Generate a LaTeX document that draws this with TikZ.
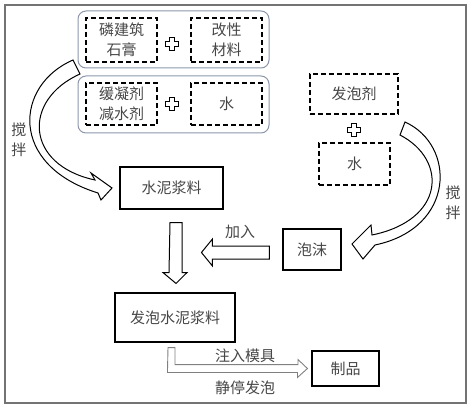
\documentclass[tikz,border=0pt]{standalone}
\usepackage{fontspec}
\newfontfamily\cjk{Noto Sans CJK SC}
\usetikzlibrary{calc}
\definecolor{grpcol}{RGB}{140,150,170}
\definecolor{txtcol}{RGB}{70,70,70}
\begin{document}
\begin{tikzpicture}[x=1pt,y=-1pt,
  lab/.style={font=\cjk\fontsize{15}{20}\selectfont, text=txtcol, align=center, inner sep=0pt},
  dbox/.style={lab, draw=black, line width=1.2pt, dash pattern=on 5pt off 3pt},
  sbox/.style={lab, draw=black, line width=1.1pt},
  grp/.style={draw=grpcol, line width=1pt, rounded corners=8pt},
  hollow/.style={draw=black, line width=1pt, fill=white, line join=miter},
  plussign/.pic={\draw[line width=1.1pt, fill=white]
    (-2.4,-6.5)--(2.4,-6.5)--(2.4,-2.4)--(6.5,-2.4)--(6.5,2.4)--(2.4,2.4)--(2.4,6.5)
    --(-2.4,6.5)--(-2.4,2.4)--(-6.5,2.4)--(-6.5,-2.4)--(-2.4,-2.4)--cycle;}
]
\useasboundingbox (0,0) rectangle (474,409);
% outer frame
\draw[draw=black!55, line width=1.6pt] (5,5) rectangle (466,403);

% group boxes
\draw[grp] (78,11) rectangle (269,68);
\draw[grp] (78,76) rectangle (269,133);

% dashed ingredient boxes
\node[dbox, minimum width=71pt, minimum height=44pt] (gyp) at (121.5,40) {磷建筑\\石膏};
\node[dbox, minimum width=71pt, minimum height=44pt] (mod) at (226.5,40) {改性\\材料};
\node[dbox, minimum width=71pt, minimum height=42pt] (ret) at (121.5,104) {缓凝剂\\减水剂};
\node[dbox, minimum width=71pt, minimum height=42pt] (wat1) at (226.5,104) {水};
\pic at (172,44) {plussign};
\pic at (172,104) {plussign};

\node[dbox, minimum width=88pt, minimum height=40pt] (fa) at (354,94) {发泡剂};
\node[dbox, minimum width=71pt, minimum height=42pt] (wat2) at (354.5,164) {水};
\pic at (354,130) {plussign};

% solid boxes
\node[sbox, minimum width=103pt, minimum height=42pt] (slurry) at (171.5,188) {水泥浆料};
\node[sbox, minimum width=58pt, minimum height=41pt] (foam) at (312,249.5) {泡沫};
\node[sbox, minimum width=120pt, minimum height=49pt] (fslurry) at (175,317.5) {发泡水泥浆料};
\node[sbox, minimum width=67pt, minimum height=35pt] (prod) at (345.5,368.5) {制品};

% labels
\node[lab] (stirL) at (19,139.5) {搅\\拌};
\node[lab] (stirR) at (453,203) {搅\\拌};
\node[lab] (add) at (240,232) {加入};
\node[lab] (inj) at (245,356) {注入模具};
\node[lab] (rest) at (245,388) {静停发泡};

% curved arrow left: group -> slurry
\draw[hollow] (73,60) .. controls (15,85) and (8,165) .. (98,193)
  -- (101,200) -- (112,188) -- (91,173) -- (95,180)
  .. controls (25,165) and (22,100) .. (80,74) -- cycle;

% curved arrow right: foaming agent + water -> foam
\draw[hollow] (405,122) .. controls (456,145) and (456,228) .. (375,245)
  -- (363,259) -- (352,244) -- (371,225) -- (372,235)
  .. controls (445,220) and (448,160) .. (400,135) -- cycle;

% down arrow: slurry -> foamed slurry
\draw[hollow] ($(slurry.south)+(-1.5,13)$) -- ++(12,0) -- ++(0,50) -- ++(5,0)
  -- ($(fslurry.north)+(1,-9)$) -- ($(slurry.south)+(-8.5,63)$) -- ++(6,0) -- cycle;

% left arrow: foam -> into the flow
\draw[hollow] ($(foam.west)+(-13,-3.5)$) -- ++(0,13) -- ++(-57,0) -- ++(0,7)
  -- ++(-11,-13.5) -- ++(11,-13.5) -- ++(0,7) -- cycle;

% bottom L arrow: foamed slurry -> product
\draw[draw=black!50, line width=0.9pt, fill=white] ($(fslurry.south)+(-7,5)$) -- ++(7,0) -- ++(0,17)
  -- ++(123,0) -- ++(0,-5) -- ($(prod.west)+(-4,0)$) -- ++(-10,9) -- ++(0,-5)
  -- ++(-130,0) -- cycle;
\end{tikzpicture}
\end{document}
